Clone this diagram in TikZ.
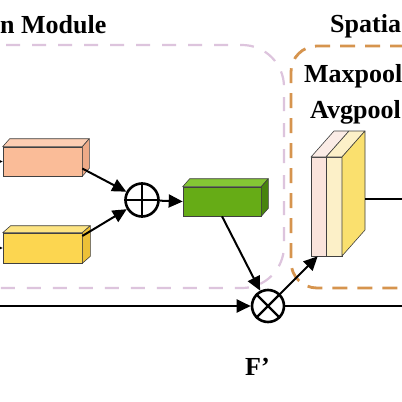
\documentclass[tikz,border=0pt]{standalone}
\usepackage{fontspec}
\setmainfont{Liberation Serif}
\usetikzlibrary{arrows.meta}
\definecolor{peachbox}{RGB}{250,188,152}
\definecolor{peachtop}{RGB}{252,205,178}
\definecolor{peachside}{RGB}{238,170,135}
\definecolor{yellowbox}{RGB}{252,214,80}
\definecolor{yellowtop}{RGB}{253,228,130}
\definecolor{yellowside}{RGB}{236,192,55}
\definecolor{greenbox}{RGB}{102,172,22}
\definecolor{greentop}{RGB}{132,198,52}
\definecolor{greenside}{RGB}{72,132,14}
\definecolor{poolpink}{RGB}{250,228,220}
\definecolor{poolcream}{RGB}{252,240,200}
\definecolor{poolyellow}{RGB}{250,224,110}
\definecolor{channeldash}{RGB}{221,196,221}
\definecolor{spatialdash}{RGB}{214,148,78}

\tikzset{
  cubefront/.style={draw=black!75, line width=0.6pt, inner sep=0pt},
  cubeface/.style={draw=black!75, line width=0.6pt, line join=round},
  opcircle/.style={circle, draw, line width=2.6pt, minimum size=33pt, inner sep=0pt},
  flow/.style={line width=2pt, -{Triangle[length=14pt,width=13pt]}},
  title/.style={font=\bfseries\fontsize{26}{28}\selectfont, inner sep=0pt, anchor=base west}
}

% top and side faces of a box, from its front node
\newcommand{\boxfaces}[5]{%
  \draw[cubeface, fill=#2] (#1.north west) -- ++(#4,-#5) -- ([shift={(#4,-#5)}]#1.north east) -- (#1.north east) -- cycle;
  \draw[cubeface, fill=#3] (#1.north east) -- ++(#4,-#5) -- ([shift={(#4,-#5)}]#1.south east) -- (#1.south east) -- cycle;
}

\begin{document}
\begin{tikzpicture}[x=1pt, y=-1pt]
\useasboundingbox (0,0) rectangle (402,402);
\clip (0,0) rectangle (402,402);
\fill[white] (0,0) rectangle (402,402);

% module frames
\draw[channeldash, line width=2.2pt, dash pattern=on 14pt off 12pt, rounded corners=42pt]
  (-20,45) -- (284,45) -- (284,288) -- (-20,288);
\draw[spatialdash, line width=2.8pt, dash pattern=on 15pt off 10pt, rounded corners=26pt]
  (430,46) -- (291,46) -- (291,288) -- (430,288);

\node[title] (chtitle) at (0,33) {n Module};
\node[title] (sptitle) at (330,32) {Spatia};
\node[title] (maxp) at (304,82) {Maxpool};
\node[title] (avgp) at (310,118) {Avgpool};

% channel branch
\node[cubefront, fill=peachbox, minimum width=79pt, minimum height=29pt] (peach) at (42.5,161.5) {};
\boxfaces{peach}{peachtop}{peachside}{7}{8}
\node[cubefront, fill=yellowbox, minimum width=79pt, minimum height=30pt] (yellow) at (42.5,248) {};
\boxfaces{yellow}{yellowtop}{yellowside}{8}{7}
\node[cubefront, fill=greenbox, minimum width=78pt, minimum height=29pt] (green) at (222,201.5) {};
\boxfaces{green}{greentop}{greenside}{7}{8}

\node[opcircle] (oplus) at (142,200) {};
\draw[line width=2.2pt] (oplus.north) -- (oplus.south) (oplus.west) -- (oplus.east);
\node[opcircle, minimum size=32pt] (otimes) at (268,306) {};
\draw[line width=2.2pt] (otimes.north west) -- (otimes.south east) (otimes.north east) -- (otimes.south west);

% pooled maps
\node[cubefront, minimum width=31pt, minimum height=99pt] (pool) at (326.5,206.5) {};
\draw[cubeface, fill=poolpink] (311,157) rectangle (326,256);
\draw[cubeface, fill=poolcream] (326,157) rectangle (342,256);
\draw[cubeface, fill=poolpink!70!white] (311,157) -- (334,131) -- (349,131) -- (326,157) -- cycle;
\draw[cubeface, fill=poolcream] (326,157) -- (349,131) -- (365,131) -- (342,157) -- cycle;
\draw[cubeface, fill=poolyellow] (342,157) -- (365,131) -- (365,230) -- (342,256) -- cycle;

\node[title] (fprime) at (245,375) {F’};

\coordinate (inA) at (-30,161.5);
\coordinate (inB) at (-30,248);
\coordinate (inF) at (-30,306);
\coordinate (outF) at (420,306);
\coordinate (poolout) at (365,199);
\coordinate (outS) at (420,199);

% connectors
\draw[flow] (inA) -- (peach.west);
\draw[flow] (inB) -- (yellow.west);
\draw[flow] ([yshift=-7pt]peach.east) -- (oplus);
\draw[flow] ([yshift=12pt]yellow.east) -- (oplus);
\draw[flow] (oplus) -- (green.west);
\draw[flow] (green.south) -- (otimes);
\draw[flow] (inF) -- (otimes.west);
\draw[line width=2pt] (otimes.east) -- (outF);
\draw[flow] (otimes) -- ([xshift=7pt]pool.south west);
\draw[line width=2pt] (poolout) -- (outS);
\end{tikzpicture}
\end{document}
